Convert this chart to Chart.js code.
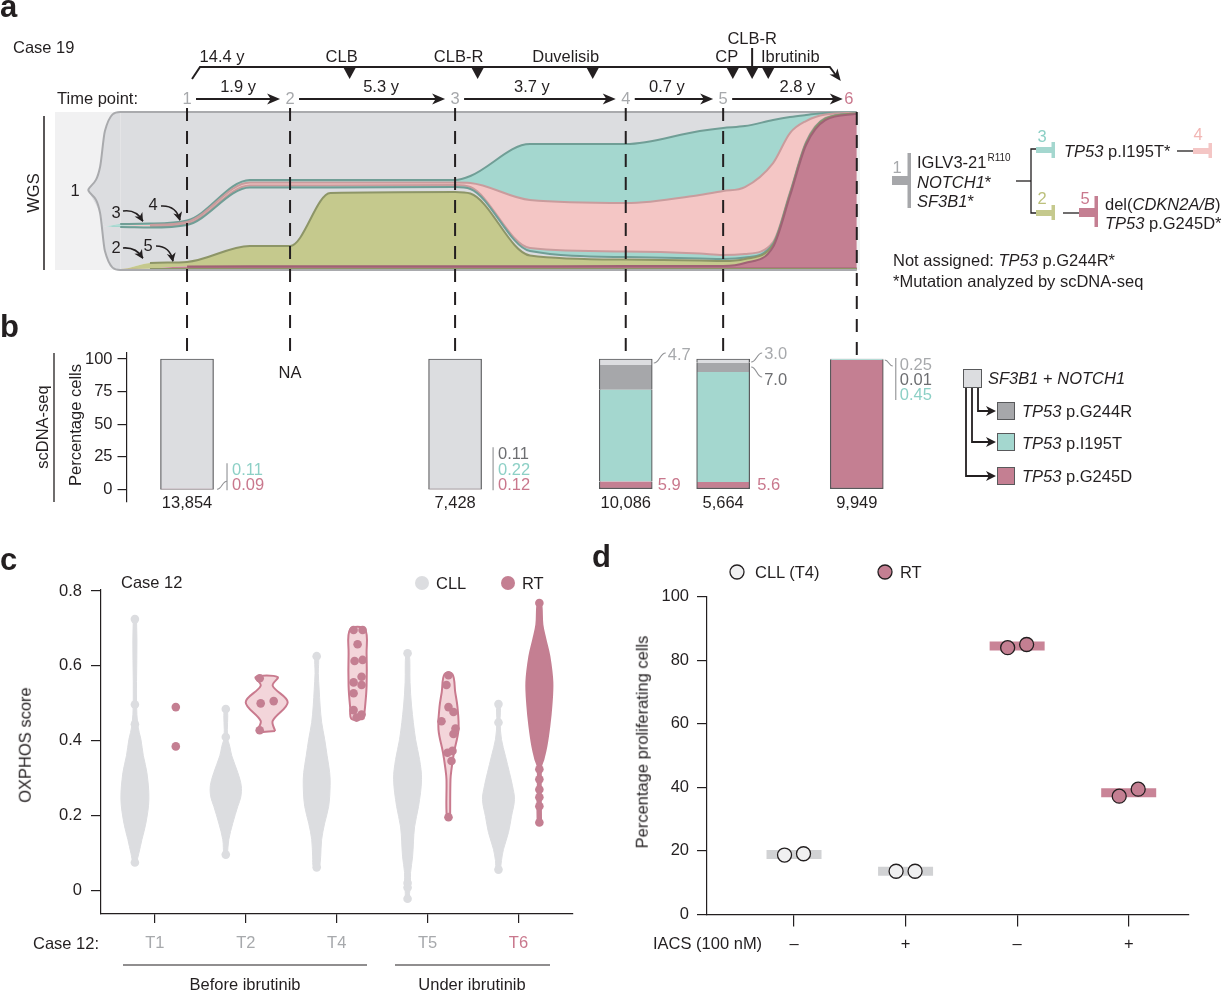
<!DOCTYPE html>
<html>
<head>
<meta charset="utf-8">
<title>Case 19 clonal evolution / Case 12 OXPHOS</title>
<script src="https://cdn.jsdelivr.net/npm/chart.js@4.4.1/dist/chart.umd.min.js"></script>
<style>
  body { margin: 0; background: #fff; }
  #page { position: relative; width: 1225px; height: 991px; overflow: hidden; background: #fff;
          font-family: 'Liberation Sans', Arial, sans-serif; color: #231f20; }
  #page canvas { position: absolute; }
  .t { position: absolute; white-space: nowrap; line-height: 1; font-size: 16.5px; transform: translateY(-50%); }
  .t.c { transform: translate(-50%, -50%); }
  .t.r { transform: translate(-50%, -50%) rotate(-90deg); }
  .t.L { font-weight: bold; font-size: 31px; }
  .t sup { font-size: 10px; vertical-align: baseline; position: relative; top: -7px; margin-left: 1px; }
</style>
</head>
<body>
<div id="page">
  <canvas id="fish" width="1225" height="362" style="left:0;top:0"></canvas>
  <canvas id="bars" width="1225" height="190" style="left:0;top:330px"></canvas>
  <canvas id="oxphos" width="600" height="431" style="left:0;top:560px"></canvas>
  <canvas id="prolif" width="635" height="431" style="left:590px;top:560px"></canvas>
</div>
<script>
// ---------- panel a: case 19 fish plot ----------
// time points along the plot (% of plot width)
const timePoints = ['1', '2', '3', '4', '5', '6'];
const tpAt = [16.4, 29.2, 49.7, 70.9, 83.0, 99.6];
const intervalYears = [1.9, 5.3, 3.7, 0.7, 2.8];
const yearsBeforeT1 = 14.4;
const treatments = ['CLB', 'CLB-R', 'Duvelisib', 'CP', 'CLB-R', 'Ibrutinib'];
const treatAt = [36.6, 52.5, 66.8, 84.2, 86.6, 88.6];

// clone edges at each knot (% of plot height, from the bottom)
const fishX   = [4.1, 5.6, 6.2, 8.1, 11.8, 16.4, 24.2, 29.2, 34.2, 49.7, 51.6, 59.0, 70.9, 80.1, 83.0, 85.7, 89.2, 91.3, 93.3, 95.7, 99.6];
const envLow  = [50.6, 36.1, 12.0, 0, 0, 0, 0, 0, 0, 0, 0, 0, 0, 0, 0, 0, 0, 0, 0, 0, 0];
const c2Low   = [50.6, 36.1, 12.0, 0.6, 0.6, 0.6, 0.6, 0.6, 0.6, 0.6, 0.6, 0.6, 0.6, 0.6, 0.6, 0.6, 0.6, 0.6, 0.6, 0.6, 0.6];
const c5Low   = [50.6, 36.1, 12.0, 0.6, 1.0, 0.9, 0.9, 0.9, 0.9, 0.9, 0.9, 0.9, 0.9, 0.9, 0.9, 0.9, 0.9, 0.9, 0.9, 0.9, 0.9];
const c5High  = [50.6, 36.1, 12.0, 0.6, 1.0, 2.2, 2.3, 2.3, 2.3, 2.3, 2.3, 2.4, 2.5, 2.5, 2.5, 4.4, 14.6, 46.8, 79.1, 94.9, 98.9];
const c2High  = [50.6, 36.1, 12.0, 0.6, 4.4, 5.1, 15.2, 15.2, 48.7, 49.4, 48.4, 9.2, 6.6, 6.0, 5.7, 7.0, 15.8, 47.8, 79.9, 95.6, 99.1];
const c3Low   = [50.6, 36.1, 27.6, 27.2, 26.9, 28.5, 52.2, 52.2, 52.2, 52.5, 51.3, 12.0, 8.2, 7.3, 7.0, 7.9, 16.5, 48.4, 80.4, 95.9, 99.2];
const c4Low   = [50.6, 36.1, 27.6, 28.2, 27.5, 29.1, 53.5, 53.5, 53.5, 53.8, 52.5, 13.9, 11.7, 10.4, 9.5, 10.1, 17.7, 49.1, 81.0, 96.2, 99.4];
const c4High  = [50.6, 36.1, 27.6, 28.2, 28.5, 30.4, 55.4, 55.4, 55.4, 55.4, 55.1, 44.3, 42.4, 47.5, 50.0, 52.5, 67.7, 86.7, 94.3, 98.4, 99.5];
const c3High  = [50.6, 36.1, 27.6, 29.1, 29.4, 31.3, 57.0, 57.0, 57.0, 57.0, 59.5, 79.7, 79.7, 88.0, 89.9, 91.1, 94.9, 96.8, 98.1, 99.4, 99.7];
const envHigh = [50.6, 65.2, 88.0, 100, 100, 100, 100, 100, 100, 100, 100, 100, 100, 100, 100, 100, 100, 100, 100, 100, 100];

// ---------- panel b: scDNA-seq ----------
const barTimes = [0, 2, 3, 4, 5];             // time points with scDNA-seq
const cellCounts = [13854, 7428, 10086, 5664, 9949];
const pctG245D = [0.09, 0.12, 5.9, 5.6, 99.29];
const pctI195T = [0.11, 0.22, 70.5, 84.4, 0.45];
const pctG244R = [0, 0.11, 18.9, 7.0, 0.01];
const pctSf3b1Notch1 = [99.80, 99.55, 4.7, 3.0, 0.25];

// ---------- panel c: OXPHOS score, case 12 ----------
const caseTimes = ['T1', 'T2', 'T4', 'T5', 'T6'];
const cllShift = -0.22, rtShift = 0.23;
// violin outlines: score levels and half-widths (fraction of one time-point slot)
const cllT1Y = [0.075, 0.1, 0.136, 0.18, 0.244, 0.315, 0.36, 0.404, 0.44, 0.5, 0.725];
const cllT1W = [0.018, 0.044, 0.077, 0.121, 0.154, 0.132, 0.093, 0.066, 0.033, 0.018, 0.018];
const cllT2Y = [0.096, 0.136, 0.18, 0.225, 0.25, 0.28, 0.315, 0.36, 0.385, 0.41, 0.485];
const cllT2W = [0.018, 0.033, 0.077, 0.132, 0.165, 0.17, 0.132, 0.066, 0.044, 0.018, 0.018];
const cllT4Y = [0.062, 0.09, 0.137, 0.18, 0.225, 0.28, 0.315, 0.36, 0.404, 0.449, 0.493, 0.538, 0.58, 0.626];
const cllT4W = [0.033, 0.044, 0.055, 0.088, 0.132, 0.148, 0.143, 0.115, 0.088, 0.055, 0.038, 0.027, 0.018, 0.018];
const cllT5Y = [-0.022, 0.008, 0.02, 0.048, 0.09, 0.17, 0.225, 0.297, 0.35, 0.404, 0.493, 0.556, 0.634];
const cllT5W = [0.018, 0.027, 0.033, 0.033, 0.055, 0.077, 0.121, 0.154, 0.132, 0.088, 0.044, 0.027, 0.018];
const cllT6Y = [0.056, 0.08, 0.11, 0.155, 0.198, 0.243, 0.28, 0.315, 0.359, 0.404, 0.449, 0.498];
const cllT6W = [0.022, 0.033, 0.055, 0.11, 0.143, 0.176, 0.154, 0.121, 0.077, 0.033, 0.018, 0.018];
const rtT2Y = [0.426, 0.453, 0.503, 0.547, 0.57];
const rtT2W = [0.093, 0.066, 0.231, 0.066, 0.121];
const rtT4Y = [0.458, 0.49, 0.546, 0.633, 0.698];
const rtT4W = [0.066, 0.082, 0.099, 0.099, 0.082];
const rtT5Y = [0.196, 0.297, 0.324, 0.368, 0.43, 0.49, 0.53, 0.578];
const rtT5W = [0.018, 0.022, 0.033, 0.06, 0.11, 0.099, 0.074, 0.044];
const rtT6Y = [0.182, 0.33, 0.35, 0.385, 0.44, 0.493, 0.556, 0.626, 0.672, 0.71, 0.768];
const rtT6W = [0.018, 0.018, 0.044, 0.077, 0.11, 0.132, 0.143, 0.11, 0.066, 0.033, 0.018];
// single cells drawn as dots
const cllDots = [[0.725, 0.497, 0.444, 0.075], [0.485, 0.41, 0.096], [0.626, 0.062], [0.634, 0.02, 0.008, -0.022], [0.498, 0.449, 0.056]];
const rtDotsY = [
  [0.49, 0.385],
  [0.567, 0.5, 0.506, 0.428],
  [0.696, 0.696, 0.658, 0.613, 0.616, 0.571, 0.556, 0.549, 0.527, 0.482, 0.47, 0.462],
  [0.575, 0.549, 0.49, 0.477, 0.452, 0.433, 0.418, 0.368, 0.373, 0.346, 0.196],
  [0.768, 0.324, 0.297, 0.27, 0.249, 0.225, 0.182]
];
const rtDotsDx = [
  [0, 0],
  [-0.077, -0.066, 0.077, -0.077],
  [-0.044, 0.055, 0, -0.033, 0.055, 0.044, -0.044, 0.044, -0.044, -0.044, 0.044, -0.011],
  [0, -0.022, 0, 0.055, -0.077, 0.077, 0.055, -0.011, 0.044, 0.033, 0],
  [0, 0, 0, 0, 0, 0, 0]
];

// ---------- panel d: proliferation ----------
const iacs = ['–', '+', '–', '+'];
const cllReps = [[18.7, 19.1], [13.6, 13.6]];   // CLL (T4), IACS - / +
const rtReps = [[83.9, 84.9], [37.2, 39.4]];    // RT, IACS - / +
const repJitter = [-0.085, 0.085];

// ---------- styles ----------
const C = {
  ink: '#231f20', wt: '#dcdde0', wtLine: '#a9aaad', bg: '#f1f1f2',
  olive: '#c5c98d', oliveLine: '#8d9567', mauve: '#c47f92', mauveLine: '#9f6275',
  teal: '#a4d7cf', tealLine: '#709e96', pink: '#f4c6c5', pinkLine: '#c99c9d',
  dark: '#a6a7aa', grayText: '#a7a9ac', darkText: '#6d6e71', tealText: '#8dd0c6',
  rtText: '#c9788d', rtLight: '#f3d5da', barLine: '#58595b'
};
const FONT = "'Liberation Sans', Arial, sans-serif";
Chart.defaults.font.family = FONT;
Chart.defaults.font.size = 16.5;
Chart.defaults.color = C.ink;
Chart.defaults.animation = false;
Chart.defaults.events = [];
Chart.defaults.plugins.legend.display = false;
Chart.defaults.plugins.tooltip.enabled = false;

function stroke(ctx, pts) {
  ctx.beginPath();
  pts.forEach(([x, y], i) => (i ? ctx.lineTo(x, y) : ctx.moveTo(x, y)));
  ctx.stroke();
}
function head(ctx, x, y, ang, len = 13, half = 5.5) {
  ctx.save();
  ctx.translate(x, y); ctx.rotate(ang);
  ctx.beginPath();
  ctx.moveTo(0, 0); ctx.lineTo(-len, -half); ctx.lineTo(-len * 0.72, 0); ctx.lineTo(-len, half);
  ctx.closePath(); ctx.fill();
  ctx.restore();
}
function txt(ctx, s, x, y, o = {}) {
  const size = o.size || 16.5;
  ctx.save();
  ctx.font = (o.italic ? 'italic ' : '') + size + 'px ' + FONT;
  ctx.fillStyle = o.color || C.ink;
  ctx.textAlign = o.align || 'center';
  ctx.textBaseline = 'alphabetic';
  ctx.fillText(s, x, y + 0.358 * size);
  ctx.restore();
}
function curl(ctx, x0, y0, cx, cy, x1, y1) {
  ctx.beginPath(); ctx.moveTo(x0, y0); ctx.quadraticCurveTo(cx, cy, x1, y1); ctx.stroke();
  head(ctx, x1, y1 + 1, Math.atan2(y1 - cy, x1 - cx), 9, 4.5);
}
function sCurve(ctx, x0, y0, x1, y1) {
  ctx.beginPath(); ctx.moveTo(x0, y0);
  ctx.bezierCurveTo((x0 + x1) / 2, y0, (x0 + x1) / 2, y1, x1, y1); ctx.stroke();
}
function dot(ctx, x, y, r, fill, line) {
  ctx.beginPath(); ctx.arc(x, y, r, 0, Math.PI * 2);
  ctx.fillStyle = fill; ctx.fill();
  if (line) { ctx.strokeStyle = line; ctx.lineWidth = 1.3; ctx.stroke(); }
}

// ---------- panel a chart ----------
const edges = [envLow, c2Low, c5Low, c5High, c2High, c3Low, c4Low, c4High, c3High, envHigh];
const cloneOf = [null, 'c2', 'c5', 'c5', 'c2', 'c3', 'c4', 'c4', 'c3', null];
const cloneSize = {
  c2: i => c2High[i] - c2Low[i], c5: i => c5High[i] - c5Low[i],
  c3: i => c3High[i] - c3Low[i], c4: i => c4High[i] - c4Low[i]
};
const fillCol = [false, C.wt, C.olive, C.mauve, C.olive, C.wt, C.teal, C.pink, C.teal, C.wt];
const lineCol = [C.wtLine, C.oliveLine, C.mauveLine, C.mauveLine, C.oliveLine, C.tealLine, C.pinkLine, C.pinkLine, C.tealLine, C.wtLine];

const fishDatasets = edges.map((e, k) => ({
  data: fishX.map((x, i) => ({ x, y: e[i] })),
  fill: k === 0 ? false : '-1',
  backgroundColor: fillCol[k] || 'transparent',
  borderColor: lineCol[k],
  borderWidth: 2,
  pointRadius: 0,
  cubicInterpolationMode: 'monotone',
  clip: 4,
  segment: {
    borderColor: s => (cloneOf[k] && cloneSize[cloneOf[k]](s.p0DataIndex) <= 0 ? 'rgba(0,0,0,0)' : undefined)
  }
}));

const treatDx = [-8, -19, -27, -6, 0, 22];
const treatY = [56, 56, 56, 56, 38, 56];
const spanDx = [0, 9, -8, -7, 10];

const fishDecor = {
  id: 'fishDecor',
  beforeDatasetsDraw(chart) {
    const { ctx, chartArea: a } = chart;
    ctx.save();
    ctx.fillStyle = C.bg;
    ctx.fillRect(a.left, a.top, a.right - a.left, a.bottom - a.top);
    ctx.restore();
  },
  afterDraw(chart) {
    const ctx = chart.ctx;
    const X = v => chart.scales.x.getPixelForValue(v);
    const xs = tpAt.map(X);
    ctx.save();
    ctx.strokeStyle = C.ink; ctx.fillStyle = C.ink; ctx.lineWidth = 2;

    // treatment line
    stroke(ctx, [[xs[0] + 5, 79], [xs[0] + 13, 67], [xs[5] - 27, 67], [xs[5] - 21, 75]]);
    head(ctx, xs[5] - 16, 81, Math.atan2(13, 10), 12, 5);
    treatments.forEach((t, i) => {
      const x = X(treatAt[i]);
      ctx.beginPath(); ctx.moveTo(x - 6.5, 67); ctx.lineTo(x + 6.5, 67); ctx.lineTo(x, 79); ctx.closePath(); ctx.fill();
      txt(ctx, t, x + treatDx[i], treatY[i]);
    });
    const xr = X(treatAt[4]);
    stroke(ctx, [[xr, 48], [xr, 67]]);
    txt(ctx, yearsBeforeT1.toFixed(1) + ' y', xs[0] + 35, 56);

    // time points and intervals
    txt(ctx, 'Time point:', 57, 98, { align: 'left' });
    timePoints.forEach((t, i) => txt(ctx, t, i === 5 ? xs[i] - 8 : xs[i], 98,
      { color: i === 5 ? C.rtText : C.grayText }));
    for (let i = 0; i < 5; i++) {
      const x0 = xs[i] + 9, x1 = i === 4 ? xs[5] - 14 : xs[i + 1] - 10;
      stroke(ctx, [[x0, 99], [x1 - 8, 99]]);
      head(ctx, x1, 99, 0, 13, 5.5);
      txt(ctx, intervalYears[i].toFixed(1) + ' y', (x0 + x1) / 2 + spanDx[i], 86);
    }

    // dashed guides down to the scDNA-seq bars
    ctx.setLineDash([13, 10]);
    xs.forEach((x, i) => stroke(ctx, [[x, i === 5 ? 112 : 108], [x, 358]]));
    ctx.setLineDash([]);

    // clone labels on the fish
    txt(ctx, '1', 75, 190); txt(ctx, '3', 116, 212); txt(ctx, '4', 153, 204);
    txt(ctx, '2', 116, 247); txt(ctx, '5', 148, 245);
    ctx.lineWidth = 1.6;
    curl(ctx, 123, 211, 136, 209, 143, 221);
    curl(ctx, 161, 206, 176, 205, 180, 220);
    curl(ctx, 123, 248, 136, 247, 143, 258);
    curl(ctx, 156, 246, 170, 246, 173, 261);

    // WGS bracket
    ctx.lineWidth = 1.5;
    stroke(ctx, [[44, 116], [44, 270]]);

    // phylogenetic tree
    ctx.fillStyle = C.dark; ctx.fillRect(892, 176, 18, 9); ctx.fillRect(907.5, 153, 3.5, 55);
    ctx.lineWidth = 1.3;
    stroke(ctx, [[1016, 181], [1031, 181]]);
    stroke(ctx, [[1037, 149], [1031, 149], [1031, 213], [1037, 213]]);
    stroke(ctx, [[1177, 151], [1193, 151]]);
    stroke(ctx, [[1063, 213], [1080, 213]]);
    ctx.fillStyle = C.teal; ctx.fillRect(1036, 147, 17, 6); ctx.fillRect(1051.5, 142, 3.5, 16);
    ctx.fillStyle = C.pink; ctx.fillRect(1193, 148, 17, 6); ctx.fillRect(1208.5, 143, 3.5, 15);
    ctx.fillStyle = C.olive; ctx.fillRect(1036, 210, 17, 6); ctx.fillRect(1051.5, 205, 3.5, 15);
    ctx.fillStyle = C.mauve; ctx.fillRect(1079, 208, 17, 9); ctx.fillRect(1094.5, 196, 3.5, 31);
    ctx.restore();
  }
};

const fishChart = new Chart(document.getElementById('fish'), {
  type: 'line',
  data: { datasets: fishDatasets },
  options: {
    responsive: false, devicePixelRatio: 1,
    layout: { padding: { left: 55, right: 365, top: 112, bottom: 92 } },
    scales: {
      x: { type: 'linear', min: 0, max: 100, display: false },
      y: { min: 0, max: 100, display: false }
    }
  },
  plugins: [fishDecor]
});

// ---------- panel b chart ----------
const barX = barTimes.map(i => tpAt[i]);
const segStyle = (vals, color, top, bottom) => ({
  data: vals.map((v, i) => ({ x: barX[i], y: v })),
  backgroundColor: color,
  borderColor: C.barLine,
  borderWidth: { left: 1.2, right: 1.2, top: top ? 1.2 : 0, bottom: bottom ? 1.2 : 0 },
  borderSkipped: false,
  barThickness: 53
});
const fmt = v => (v < 1 ? v.toFixed(2) : v.toFixed(1));

const barDecor = {
  id: 'barDecor',
  afterDraw(chart) {
    const ctx = chart.ctx, s = chart.scales;
    const X = v => s.x.getPixelForValue(v), Y = v => s.y.getPixelForValue(v);
    const y0 = Y(0), top = Y(100);
    ctx.save();
    barX.forEach((t, i) => txt(ctx, cellCounts[i].toLocaleString('en-US'), X(t), y0 + 12.5));
    txt(ctx, 'NA', X(tpAt[1]), top + 13);

    ctx.strokeStyle = '#8f9093'; ctx.lineWidth = 1.1;
    // time point 1
    let bx = X(barX[0]);
    stroke(ctx, [[bx + 40, y0 - 26], [bx + 40, y0 + 1]]);
    sCurve(ctx, bx + 30, y0, bx + 40, y0 - 8);
    txt(ctx, fmt(pctI195T[0]), bx + 45, y0 - 20, { align: 'left', color: C.tealText });
    txt(ctx, fmt(pctG245D[0]), bx + 45, y0 - 5, { align: 'left', color: C.rtText });
    // time point 3
    bx = X(barX[1]);
    stroke(ctx, [[bx + 38, y0 - 42], [bx + 38, y0 + 1]]);
    txt(ctx, fmt(pctG244R[1]), bx + 43, y0 - 36, { align: 'left', color: C.darkText });
    txt(ctx, fmt(pctI195T[1]), bx + 43, y0 - 20, { align: 'left', color: C.tealText });
    txt(ctx, fmt(pctG245D[1]), bx + 43, y0 - 5, { align: 'left', color: C.rtText });
    // time point 4
    bx = X(barX[2]);
    sCurve(ctx, bx + 28, top + 4, bx + 40, top - 6);
    txt(ctx, fmt(pctSf3b1Notch1[2]), bx + 42, top - 5, { align: 'left', color: C.grayText });
    txt(ctx, fmt(pctG245D[2]), bx + 32, y0 - 5, { align: 'left', color: C.rtText });
    // time point 5
    bx = X(barX[3]);
    sCurve(ctx, bx + 28, top + 3, bx + 39, top - 6);
    sCurve(ctx, bx + 28, top + 8, bx + 39, top + 18);
    txt(ctx, fmt(pctSf3b1Notch1[3]), bx + 41, top - 6, { align: 'left', color: C.grayText });
    txt(ctx, fmt(pctG244R[3]), bx + 41, top + 20, { align: 'left', color: C.darkText });
    txt(ctx, fmt(pctG245D[3]), bx + 34, y0 - 5, { align: 'left', color: C.rtText });
    // time point 6
    bx = X(barX[4]);
    stroke(ctx, [[bx + 39, top - 1], [bx + 39, top + 41]]);
    sCurve(ctx, bx + 28, top + 1, bx + 36, top + 7);
    txt(ctx, fmt(pctSf3b1Notch1[4]), bx + 43, top + 5, { align: 'left', color: C.grayText });
    txt(ctx, fmt(pctG244R[4]), bx + 43, top + 20, { align: 'left', color: C.darkText });
    txt(ctx, fmt(pctI195T[4]), bx + 43, top + 35, { align: 'left', color: C.tealText });

    // left bracket and legend (page coordinates)
    ctx.translate(0, -330);
    ctx.strokeStyle = C.ink; ctx.lineWidth = 1.3;
    stroke(ctx, [[54, 353], [54, 502]]);
    [[963, 369, 19, C.wt], [997, 402, 18, C.dark], [997, 433, 18, C.teal], [997, 467, 18, C.mauve]].forEach(([x, y, w, c]) => {
      ctx.fillStyle = c; ctx.fillRect(x, y, w, w);
      ctx.strokeStyle = C.barLine; ctx.lineWidth = 1; ctx.strokeRect(x + 0.5, y + 0.5, w - 1, w - 1);
    });
    ctx.strokeStyle = C.ink; ctx.fillStyle = C.ink; ctx.lineWidth = 1.8;
    [[978, 411], [972, 442], [966, 476]].forEach(([x, y]) => {
      stroke(ctx, [[x, 388], [x, y], [989, y]]);
      head(ctx, 996, y, 0, 10, 5);
    });
    ctx.restore();
  }
};

const fx = fishChart.scales.x;
new Chart(document.getElementById('bars'), {
  type: 'bar',
  data: {
    datasets: [
      Object.assign({ label: 'TP53 p.G245D' }, segStyle(pctG245D, C.mauve, false, true)),
      Object.assign({ label: 'TP53 p.I195T' }, segStyle(pctI195T, C.teal, false, false)),
      Object.assign({ label: 'TP53 p.G244R' }, segStyle(pctG244R, C.dark, false, false)),
      Object.assign({ label: 'SF3B1 + NOTCH1' }, segStyle(pctSf3b1Notch1, C.wt, true, false))
    ]
  },
  options: {
    responsive: false, devicePixelRatio: 1,
    layout: { padding: { left: 77, right: 325, top: 22.7, bottom: 18.3 } },
    scales: {
      x: { type: 'linear', stacked: true, display: false, offset: false,
           min: fx.getValueForPixel(127), max: fx.getValueForPixel(900) },
      y: {
        stacked: true, min: -9.5, max: 104.8,
        afterBuildTicks: a => { a.ticks = [0, 25, 50, 75, 100].map(value => ({ value })); },
        afterFit: a => { a.width = 50; },
        grid: { drawOnChartArea: false, tickLength: 9.5, color: C.ink, lineWidth: 1.2 },
        border: { color: C.ink, width: 1.2 },
        ticks: { padding: 5 }
      }
    }
  },
  plugins: [barDecor]
});

// ---------- panel c chart ----------
function violin(center, ys, ws) {
  const pts = ys.map((y, i) => ({ x: center + ws[i], y }));
  for (let i = ys.length - 1; i >= 0; i--) pts.push({ x: center - ws[i], y: ys[i] });
  pts.push(pts[0]);
  return pts;
}
const cllViolins = [[cllT1Y, cllT1W], [cllT2Y, cllT2W], [cllT4Y, cllT4W], [cllT5Y, cllT5W], [cllT6Y, cllT6W]];
const rtViolins = [[1, rtT2Y, rtT2W], [2, rtT4Y, rtT4W], [3, rtT5Y, rtT5W], [4, rtT6Y, rtT6W]];

const oxDatasets = [];
oxDatasets.push({
  data: rtDotsY.flatMap((ys, g) => ys.map((y, j) => ({ x: g + 1 + rtShift + rtDotsDx[g][j], y }))),
  showLine: false, pointRadius: 4.3, pointBorderWidth: 0, pointBackgroundColor: C.mauve
});
oxDatasets.push({
  data: cllDots.flatMap((ys, g) => ys.map(y => ({ x: g + 1 + cllShift, y }))),
  showLine: false, pointRadius: 4.3, pointBorderWidth: 0, pointBackgroundColor: C.wt
});
rtViolins.forEach(([g, ys, ws]) => oxDatasets.push({
  data: violin(g + 1 + rtShift, ys, ws), fill: 'shape', tension: 0.35, pointRadius: 0,
  backgroundColor: g === 4 ? C.mauve : C.rtLight, borderColor: g === 4 ? C.mauve : '#c97a8e', borderWidth: 2
}));
cllViolins.forEach(([ys, ws], g) => oxDatasets.push({
  data: violin(g + 1 + cllShift, ys, ws), fill: 'shape', tension: 0.35, pointRadius: 0,
  backgroundColor: C.wt, borderColor: C.wt, borderWidth: 1
}));

const oxDecor = {
  id: 'oxDecor',
  afterDraw(chart) {
    const ctx = chart.ctx;
    ctx.save();
    ctx.translate(0, -560);
    dot(ctx, 422, 583, 7, C.wt); dot(ctx, 508, 583, 7, C.mauve);
    ctx.strokeStyle = C.ink; ctx.lineWidth = 1.2;
    stroke(ctx, [[123, 965], [367, 965]]);
    stroke(ctx, [[395, 965], [550, 965]]);
    ctx.restore();
  }
};

new Chart(document.getElementById('oxphos'), {
  type: 'line',
  data: { datasets: oxDatasets },
  options: {
    responsive: false, devicePixelRatio: 1,
    layout: { padding: { left: 41, right: 27, top: 29.3, bottom: 27 } },
    scales: {
      x: {
        type: 'linear', min: 0.407, max: 5.6,
        afterBuildTicks: a => { a.ticks = [1, 2, 3, 4, 5].map(value => ({ value })); },
        afterFit: a => { a.height = 50; },
        grid: { drawOnChartArea: false, tickLength: 9, color: C.ink, lineWidth: 1.2 },
        border: { color: C.ink, width: 1.2 },
        ticks: { padding: 11, callback: (v, i) => caseTimes[i], color: c => (c.index === 4 ? C.rtText : C.grayText) }
      },
      y: {
        min: -0.0626, max: 0.8046,
        afterBuildTicks: a => { a.ticks = [0, 0.2, 0.4, 0.6, 0.8].map(value => ({ value })); },
        afterFit: a => { a.width = 60; },
        grid: { drawOnChartArea: false, tickLength: 10, color: C.ink, lineWidth: 1.2 },
        border: { color: C.ink, width: 1.2 },
        ticks: { padding: 9, callback: v => (v === 0 ? '0' : v.toFixed(1)) }
      }
    }
  },
  plugins: [oxDecor]
});

// ---------- panel d chart ----------
const mean = a => a.reduce((s, v) => s + v, 0) / a.length;
const repPoints = (groups, first) => groups.flatMap((reps, g) => reps.map((y, j) => ({ x: first + g + repJitter[j], y })));
const meanPoints = (groups, first) => groups.map((reps, g) => ({ x: first + g, y: mean(reps) }));

const prolifDecor = {
  id: 'prolifDecor',
  afterDraw(chart) {
    const ctx = chart.ctx;
    ctx.save();
    ctx.translate(-590, -560);
    dot(ctx, 737, 572, 7, '#f0f0f1', C.ink);
    dot(ctx, 885, 572, 7, C.mauve, C.ink);
    ctx.restore();
  }
};

new Chart(document.getElementById('prolif'), {
  type: 'line',
  data: {
    datasets: [
      { label: 'CLL (T4)', data: repPoints(cllReps, 1), showLine: false, pointRadius: 7,
        pointBackgroundColor: '#f0f0f1', pointBorderColor: C.ink, pointBorderWidth: 1.3 },
      { label: 'RT', data: repPoints(rtReps, 3), showLine: false, pointRadius: 7,
        pointBackgroundColor: C.mauve, pointBorderColor: C.ink, pointBorderWidth: 1.3 },
      { data: meanPoints(cllReps, 1), showLine: false, pointStyle: 'line', pointRadius: 27.5,
        pointBorderWidth: 9, pointBorderColor: '#d1d2d4' },
      { data: meanPoints(rtReps, 3), showLine: false, pointStyle: 'line', pointRadius: 27.5,
        pointBorderWidth: 9, pointBorderColor: '#c98497' }
    ]
  },
  options: {
    responsive: false, devicePixelRatio: 1,
    layout: { padding: { left: 57, right: 3, top: 13.5, bottom: 26.5 } },
    scales: {
      x: {
        type: 'linear', min: 0.22, max: 4.536,
        afterBuildTicks: a => { a.ticks = [1, 2, 3, 4].map(value => ({ value })); },
        afterFit: a => { a.height = 50; },
        grid: { drawOnChartArea: false, tickLength: 12, color: C.ink, lineWidth: 1.2 },
        border: { color: C.ink, width: 1.2 },
        ticks: { padding: 8, callback: (v, i) => iacs[i] }
      },
      y: {
        min: 0, max: 100,
        afterBuildTicks: a => { a.ticks = [0, 20, 40, 60, 80, 100].map(value => ({ value })); },
        afterFit: a => { a.width = 60; },
        grid: { drawOnChartArea: false, tickLength: 10, color: C.ink, lineWidth: 1.2 },
        border: { color: C.ink, width: 1.2 },
        ticks: { padding: 8 }
      }
    }
  },
  plugins: [prolifDecor]
});

// ---------- text labels ----------
const texts = [
  ['a', 0, 6, 'L'], ['b', 0, 326, 'L'], ['c', 0, 559, 'L'], ['d', 592, 556, 'L'],
  ['Case 19', 13, 47],
  ['WGS', 33, 193, 'r'],
  ['1', 897, 167, 'c', C.grayText],
  ['IGLV3-21<sup>R110</sup>', 917, 162],
  ['<i>NOTCH1</i>*', 917, 182],
  ['<i>SF3B1</i>*', 917, 201],
  ['3', 1042, 136, 'c', C.tealText],
  ['<i>TP53</i> p.I195T*', 1064, 151],
  ['4', 1198, 134, 'c', '#f2b6b4'],
  ['2', 1042, 198, 'c', '#bcc07c'],
  ['5', 1085, 198, 'c', C.rtText],
  ['del(<i>CDKN2A/B</i>)', 1105, 204],
  ['<i>TP53</i> p.G245D*', 1105, 223],
  ['Not assigned: <i>TP53</i> p.G244R*', 893, 260],
  ['*Mutation analyzed by scDNA-seq', 893, 281],
  ['scDNA-seq', 42, 427, 'r'],
  ['Percentage cells', 75, 425, 'r'],
  ['<i>SF3B1</i> + <i>NOTCH1</i>', 988, 378],
  ['<i>TP53</i> p.G244R', 1022, 411],
  ['<i>TP53</i> p.I195T', 1022, 443],
  ['<i>TP53</i> p.G245D', 1022, 476],
  ['Case 12', 121, 582],
  ['CLL', 436, 583],
  ['RT', 522, 583],
  ['Case 12:', 33, 943],
  ['Before ibrutinib', 245, 984, 'c'],
  ['Under ibrutinib', 472, 984, 'c'],
  ['OXPHOS score', 25, 745, 'r'],
  ['CLL (T4)', 755, 572],
  ['RT', 900, 572],
  ['IACS (100 nM)', 653, 943],
  ['Percentage proliferating cells', 642, 742, 'r']
];
const page = document.getElementById('page');
texts.forEach(([h, x, y, cls, color]) => {
  const d = document.createElement('div');
  d.className = 't' + (cls ? ' ' + cls : '');
  d.innerHTML = h;
  d.style.left = x + 'px';
  d.style.top = y + 'px';
  if (color) d.style.color = color;
  page.appendChild(d);
});
</script>
</body>
</html>
